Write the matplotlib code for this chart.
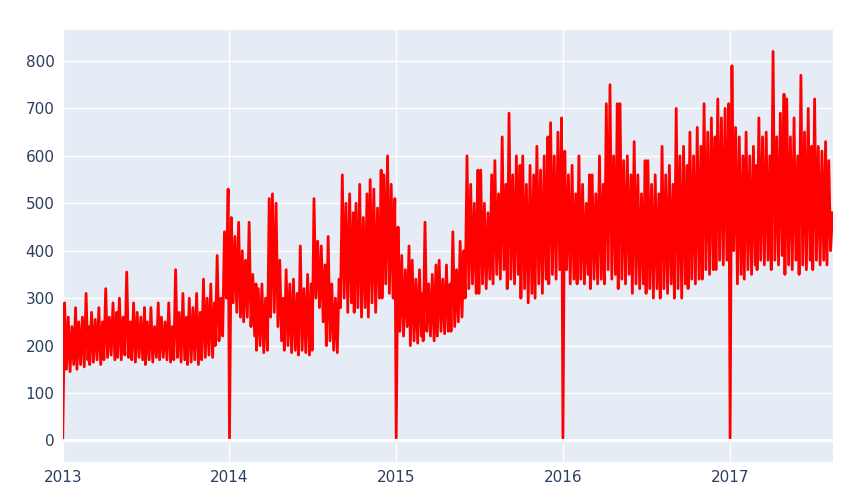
import datetime as dt
import matplotlib
matplotlib.use("Agg")
import matplotlib.pyplot as plt
import matplotlib.dates as mdates

# values, 8 samples per month (days 1,5,9,...,29)
y2013 = [
    [5, 290, 150, 260, 145, 240, 160, 280],
    [150, 250, 160, 260, 155, 310, 170, 240],
    [160, 270, 165, 255, 170, 280, 160, 250],
    [170, 320, 175, 260, 180, 290, 170, 270],
    [175, 300, 170, 260, 180, 355, 175, 250],
    [170, 290, 165, 270, 175, 260, 170, 280],
    [160, 250, 170, 280, 165, 240, 175, 290],
    [170, 260, 175, 250, 170, 290, 165, 240],
    [170, 360, 175, 270, 165, 310, 170, 260],
    [160, 300, 165, 280, 170, 310, 160, 270],
    [170, 340, 175, 300, 180, 330, 175, 290],
    [200, 390, 210, 300, 220, 440, 300, 530],
]
y2014 = [
    [5, 470, 290, 430, 270, 460, 260, 400],
    [250, 380, 260, 460, 240, 350, 220, 330],
    [190, 320, 200, 330, 185, 300, 190, 510],
    [260, 520, 270, 500, 240, 380, 210, 300],
    [190, 360, 200, 330, 185, 340, 190, 310],
    [180, 410, 190, 320, 185, 350, 180, 330],
    [190, 510, 300, 420, 280, 410, 250, 370],
    [200, 430, 210, 330, 190, 300, 185, 340],
    [280, 560, 300, 500, 270, 520, 290, 480],
    [270, 500, 280, 540, 260, 470, 280, 520],
    [260, 550, 290, 530, 270, 490, 300, 570],
    [300, 560, 330, 600, 310, 540, 300, 510],
]
y2015 = [
    [5, 450, 230, 390, 220, 360, 240, 410],
    [200, 380, 210, 340, 205, 360, 220, 310],
    [210, 460, 230, 330, 220, 350, 210, 370],
    [220, 380, 230, 340, 225, 370, 230, 330],
    [230, 440, 240, 360, 250, 420, 260, 400],
    [300, 600, 320, 540, 330, 500, 310, 570],
    [310, 570, 330, 500, 320, 480, 340, 560],
    [330, 590, 350, 520, 340, 640, 360, 540],
    [320, 690, 340, 560, 330, 600, 350, 580],
    [300, 600, 320, 540, 290, 580, 310, 560],
    [300, 620, 330, 570, 310, 600, 340, 640],
    [330, 670, 350, 600, 340, 650, 360, 680],
]
y2016 = [
    [5, 610, 360, 560, 330, 580, 340, 520],
    [330, 600, 340, 540, 330, 500, 350, 560],
    [320, 560, 340, 520, 330, 600, 340, 540],
    [330, 710, 360, 750, 340, 600, 350, 710],
    [320, 710, 340, 590, 330, 600, 350, 560],
    [310, 630, 330, 560, 320, 520, 330, 590],
    [310, 590, 320, 540, 300, 560, 320, 520],
    [300, 620, 320, 560, 310, 580, 330, 540],
    [300, 700, 320, 600, 300, 620, 330, 580],
    [320, 650, 340, 600, 330, 660, 340, 620],
    [340, 710, 360, 650, 350, 680, 360, 640],
    [360, 720, 380, 680, 370, 700, 380, 710],
]
y2017 = [
    [5, 790, 400, 660, 330, 640, 350, 600],
    [340, 650, 360, 600, 350, 620, 370, 580],
    [360, 680, 380, 640, 370, 650, 380, 600],
    [360, 820, 380, 640, 370, 690, 390, 730],
    [350, 720, 370, 640, 360, 680, 380, 600],
    [350, 770, 370, 650, 360, 700, 380, 620],
    [360, 720, 380, 620, 370, 610, 380, 630],
    [370, 590, 400, 480],
]
years = [2013, 2014, 2015, 2016, 2017]
year_data = [y2013, y2014, y2015, y2016, y2017]
sample_days = [1, 5, 9, 13, 17, 21, 25, 29]

dates, vals = [], []
for yr, months in zip(years, year_data):
    for m, row in enumerate(months, 1):
        for d, v in zip(sample_days, row):
            day = min(d, 28) if m == 2 else d
            dates.append(dt.date(yr, m, day))
            vals.append(v)

fig = plt.figure(figsize=(8.6, 5.03), dpi=100)
ax = fig.add_axes([0.073, 0.082, 0.896, 0.858])
ax.set_facecolor("#E5ECF6")
ax.plot(dates, vals, color="red", lw=2)
ax.set_xlim(dt.date(2013, 1, 1), dt.date(2017, 8, 15))
ax.set_ylim(-45, 865)
ax.set_yticks(range(0, 801, 100))
ax.xaxis.set_major_locator(mdates.YearLocator())
ax.xaxis.set_major_formatter(mdates.DateFormatter("%Y"))
ax.grid(color="white", lw=1)
ax.axhline(0, color="white", lw=2)
ax.set_axisbelow(True)
for s in ax.spines.values():
    s.set_visible(False)
ax.tick_params(length=0, labelsize=11, labelcolor="#2a3f5f", pad=6)
fig.savefig("out.png", dpi=100)
